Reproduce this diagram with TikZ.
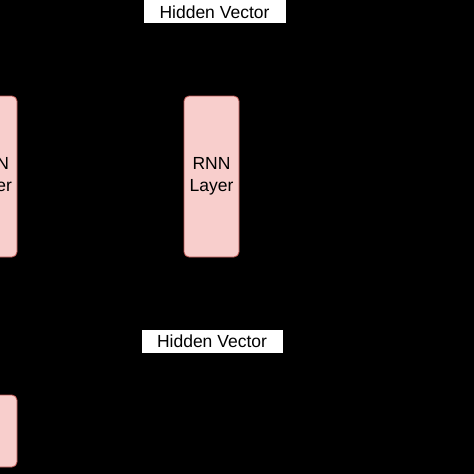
\documentclass[tikz,border=0pt]{standalone}
\usepackage{fontspec}
\setmainfont{Liberation Sans}
\definecolor{rnnfill}{HTML}{F8CECC}
\definecolor{rnnline}{HTML}{B85450}
\begin{document}
\begin{tikzpicture}[x=1pt,y=-1pt,
  rnnbox/.style={draw=rnnline, fill=rnnfill, rounded corners=5pt, line width=0.8pt},
  hvbox/.style={draw=black, fill=white, line width=0.8pt},
  lbl/.style={font=\fontsize{17.5}{22}\selectfont, text=black, align=center}]
\fill[black] (0,0) rectangle (474,474);
\useasboundingbox (0,0) rectangle (474,474);
% top hidden vector
\draw[hvbox] (143,-1) rectangle (286,23);
\node[lbl] (hvtop) at (214.5,12) {Hidden Vector};
% RNN boxes
\draw[rnnbox] (-38,96) rectangle (17,257);
\node[lbl] (rnnleft) at (-10,176) {RNN\\Layer};
\draw[rnnbox] (184,96) rectangle (239,257);
\node[lbl] (rnnmid) at (211.5,176) {RNN\\Layer};
% bottom hidden vector
\draw[hvbox] (141,329) rectangle (283,353);
\node[lbl] (hvbot) at (212,341) {Hidden Vector};
% bottom-left partial box
\draw[rnnbox] (-38,395) rectangle (17,467);
\end{tikzpicture}
\end{document}
